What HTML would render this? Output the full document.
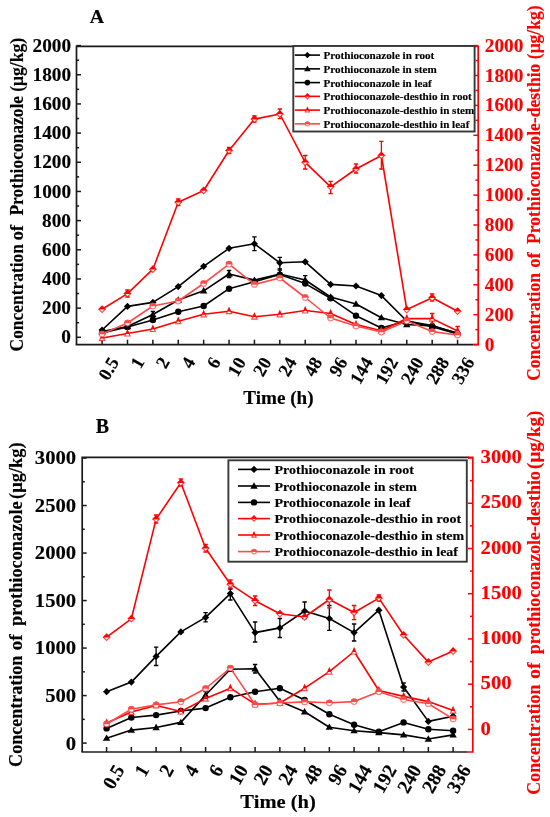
<!DOCTYPE html>
<html><head><meta charset="utf-8"><title>Prothioconazole concentration charts</title>
<style>
html,body{margin:0;padding:0;background:#fff;}
svg{display:block;}
text{font-family:"Liberation Serif","Times New Roman",serif;font-weight:bold;white-space:pre;}
text{stroke:currentColor;stroke-width:0.15px;}
</style></head>
<body>
<svg width="550" height="817" viewBox="0 0 550 817">
<rect width="550" height="817" fill="#fff"/>
<path d="M76.5,344.7V46.3H474.2" fill="none" stroke="#1a1a1a" stroke-width="1.7"/>
<path d="M75.7,344.7H473.2" fill="none" stroke="#1a1a1a" stroke-width="1.7"/>
<path d="M473.2,46.3H478.2V344.7H473.2" fill="none" stroke="#ff0000" stroke-width="1.7"/>
<path d="M76.5,337.30H81.0" stroke="#1a1a1a" stroke-width="1.5"/>
<path d="M76.5,308.13H81.0" stroke="#1a1a1a" stroke-width="1.5"/>
<path d="M76.5,278.96H81.0" stroke="#1a1a1a" stroke-width="1.5"/>
<path d="M76.5,249.79H81.0" stroke="#1a1a1a" stroke-width="1.5"/>
<path d="M76.5,220.62H81.0" stroke="#1a1a1a" stroke-width="1.5"/>
<path d="M76.5,191.45H81.0" stroke="#1a1a1a" stroke-width="1.5"/>
<path d="M76.5,162.28H81.0" stroke="#1a1a1a" stroke-width="1.5"/>
<path d="M76.5,133.11H81.0" stroke="#1a1a1a" stroke-width="1.5"/>
<path d="M76.5,103.94H81.0" stroke="#1a1a1a" stroke-width="1.5"/>
<path d="M76.5,74.77H81.0" stroke="#1a1a1a" stroke-width="1.5"/>
<path d="M76.5,45.60H81.0" stroke="#1a1a1a" stroke-width="1.5"/>
<path d="M76.5,322.72H79.1" stroke="#1a1a1a" stroke-width="1.5"/>
<path d="M76.5,293.55H79.1" stroke="#1a1a1a" stroke-width="1.5"/>
<path d="M76.5,264.38H79.1" stroke="#1a1a1a" stroke-width="1.5"/>
<path d="M76.5,235.21H79.1" stroke="#1a1a1a" stroke-width="1.5"/>
<path d="M76.5,206.03H79.1" stroke="#1a1a1a" stroke-width="1.5"/>
<path d="M76.5,176.87H79.1" stroke="#1a1a1a" stroke-width="1.5"/>
<path d="M76.5,147.69H79.1" stroke="#1a1a1a" stroke-width="1.5"/>
<path d="M76.5,118.53H79.1" stroke="#1a1a1a" stroke-width="1.5"/>
<path d="M76.5,89.35H79.1" stroke="#1a1a1a" stroke-width="1.5"/>
<path d="M76.5,60.19H79.1" stroke="#1a1a1a" stroke-width="1.5"/>
<path d="M478.2,344.60H473.4" stroke="#ff0000" stroke-width="1.5"/>
<path d="M478.2,314.70H473.4" stroke="#ff0000" stroke-width="1.5"/>
<path d="M478.2,284.80H473.4" stroke="#ff0000" stroke-width="1.5"/>
<path d="M478.2,254.90H473.4" stroke="#ff0000" stroke-width="1.5"/>
<path d="M478.2,225.00H473.4" stroke="#ff0000" stroke-width="1.5"/>
<path d="M478.2,195.10H473.4" stroke="#ff0000" stroke-width="1.5"/>
<path d="M478.2,165.20H473.4" stroke="#ff0000" stroke-width="1.5"/>
<path d="M478.2,135.30H473.4" stroke="#ff0000" stroke-width="1.5"/>
<path d="M478.2,105.40H473.4" stroke="#ff0000" stroke-width="1.5"/>
<path d="M478.2,75.50H473.4" stroke="#ff0000" stroke-width="1.5"/>
<path d="M478.2,45.60H473.4" stroke="#ff0000" stroke-width="1.5"/>
<path d="M478.2,329.65H475.4" stroke="#ff0000" stroke-width="1.5"/>
<path d="M478.2,299.75H475.4" stroke="#ff0000" stroke-width="1.5"/>
<path d="M478.2,269.85H475.4" stroke="#ff0000" stroke-width="1.5"/>
<path d="M478.2,239.95H475.4" stroke="#ff0000" stroke-width="1.5"/>
<path d="M478.2,210.05H475.4" stroke="#ff0000" stroke-width="1.5"/>
<path d="M478.2,180.15H475.4" stroke="#ff0000" stroke-width="1.5"/>
<path d="M478.2,150.25H475.4" stroke="#ff0000" stroke-width="1.5"/>
<path d="M478.2,120.35H475.4" stroke="#ff0000" stroke-width="1.5"/>
<path d="M478.2,90.45H475.4" stroke="#ff0000" stroke-width="1.5"/>
<path d="M478.2,60.55H475.4" stroke="#ff0000" stroke-width="1.5"/>
<path d="M102.10,344.7V339.7" stroke="#1a1a1a" stroke-width="1.5"/>
<path d="M127.49,344.7V339.7" stroke="#1a1a1a" stroke-width="1.5"/>
<path d="M152.88,344.7V339.7" stroke="#1a1a1a" stroke-width="1.5"/>
<path d="M178.27,344.7V339.7" stroke="#1a1a1a" stroke-width="1.5"/>
<path d="M203.66,344.7V339.7" stroke="#1a1a1a" stroke-width="1.5"/>
<path d="M229.05,344.7V339.7" stroke="#1a1a1a" stroke-width="1.5"/>
<path d="M254.44,344.7V339.7" stroke="#1a1a1a" stroke-width="1.5"/>
<path d="M279.83,344.7V339.7" stroke="#1a1a1a" stroke-width="1.5"/>
<path d="M305.22,344.7V339.7" stroke="#1a1a1a" stroke-width="1.5"/>
<path d="M330.61,344.7V339.7" stroke="#1a1a1a" stroke-width="1.5"/>
<path d="M356.00,344.7V339.7" stroke="#1a1a1a" stroke-width="1.5"/>
<path d="M381.39,344.7V339.7" stroke="#1a1a1a" stroke-width="1.5"/>
<path d="M406.78,344.7V339.7" stroke="#1a1a1a" stroke-width="1.5"/>
<path d="M432.17,344.7V339.7" stroke="#1a1a1a" stroke-width="1.5"/>
<path d="M457.56,344.7V339.7" stroke="#1a1a1a" stroke-width="1.5"/>
<text x="61.38" y="343.37" font-size="18.5" textLength="9.62" lengthAdjust="spacingAndGlyphs" fill="#000" color="#000">0</text>
<text x="42.14" y="314.20" font-size="18.5" textLength="28.86" lengthAdjust="spacingAndGlyphs" fill="#000" color="#000">200</text>
<text x="42.14" y="285.03" font-size="18.5" textLength="28.86" lengthAdjust="spacingAndGlyphs" fill="#000" color="#000">400</text>
<text x="42.14" y="255.86" font-size="18.5" textLength="28.86" lengthAdjust="spacingAndGlyphs" fill="#000" color="#000">600</text>
<text x="42.14" y="226.69" font-size="18.5" textLength="28.86" lengthAdjust="spacingAndGlyphs" fill="#000" color="#000">800</text>
<text x="32.52" y="197.52" font-size="18.5" textLength="38.48" lengthAdjust="spacingAndGlyphs" fill="#000" color="#000">1000</text>
<text x="32.52" y="168.35" font-size="18.5" textLength="38.48" lengthAdjust="spacingAndGlyphs" fill="#000" color="#000">1200</text>
<text x="32.52" y="139.18" font-size="18.5" textLength="38.48" lengthAdjust="spacingAndGlyphs" fill="#000" color="#000">1400</text>
<text x="32.52" y="110.01" font-size="18.5" textLength="38.48" lengthAdjust="spacingAndGlyphs" fill="#000" color="#000">1600</text>
<text x="32.52" y="80.84" font-size="18.5" textLength="38.48" lengthAdjust="spacingAndGlyphs" fill="#000" color="#000">1800</text>
<text x="32.52" y="51.67" font-size="18.5" textLength="38.48" lengthAdjust="spacingAndGlyphs" fill="#000" color="#000">2000</text>
<text x="484.80" y="350.67" font-size="18.5" textLength="9.62" lengthAdjust="spacingAndGlyphs" fill="#ff0000" color="#ff0000">0</text>
<text x="484.80" y="320.77" font-size="18.5" textLength="28.86" lengthAdjust="spacingAndGlyphs" fill="#ff0000" color="#ff0000">200</text>
<text x="484.80" y="290.87" font-size="18.5" textLength="28.86" lengthAdjust="spacingAndGlyphs" fill="#ff0000" color="#ff0000">400</text>
<text x="484.80" y="260.97" font-size="18.5" textLength="28.86" lengthAdjust="spacingAndGlyphs" fill="#ff0000" color="#ff0000">600</text>
<text x="484.80" y="231.07" font-size="18.5" textLength="28.86" lengthAdjust="spacingAndGlyphs" fill="#ff0000" color="#ff0000">800</text>
<text x="484.80" y="201.17" font-size="18.5" textLength="38.48" lengthAdjust="spacingAndGlyphs" fill="#ff0000" color="#ff0000">1000</text>
<text x="484.80" y="171.27" font-size="18.5" textLength="38.48" lengthAdjust="spacingAndGlyphs" fill="#ff0000" color="#ff0000">1200</text>
<text x="484.80" y="141.37" font-size="18.5" textLength="38.48" lengthAdjust="spacingAndGlyphs" fill="#ff0000" color="#ff0000">1400</text>
<text x="484.80" y="111.47" font-size="18.5" textLength="38.48" lengthAdjust="spacingAndGlyphs" fill="#ff0000" color="#ff0000">1600</text>
<text x="484.80" y="81.57" font-size="18.5" textLength="38.48" lengthAdjust="spacingAndGlyphs" fill="#ff0000" color="#ff0000">1800</text>
<text x="484.80" y="51.67" font-size="18.5" textLength="38.48" lengthAdjust="spacingAndGlyphs" fill="#ff0000" color="#ff0000">2000</text>
<g transform="translate(119.60,362.00) rotate(-60)"><text x="-22.66" y="0" font-size="18.5" textLength="22.66" lengthAdjust="spacingAndGlyphs" fill="#000" color="#000">0.5</text></g>
<g transform="translate(144.99,362.00) rotate(-60)"><text x="-9.06" y="0" font-size="18.5" textLength="9.06" lengthAdjust="spacingAndGlyphs" fill="#000" color="#000">1</text></g>
<g transform="translate(170.38,362.00) rotate(-60)"><text x="-9.06" y="0" font-size="18.5" textLength="9.06" lengthAdjust="spacingAndGlyphs" fill="#000" color="#000">2</text></g>
<g transform="translate(195.77,362.00) rotate(-60)"><text x="-9.06" y="0" font-size="18.5" textLength="9.06" lengthAdjust="spacingAndGlyphs" fill="#000" color="#000">4</text></g>
<g transform="translate(221.16,362.00) rotate(-60)"><text x="-9.06" y="0" font-size="18.5" textLength="9.06" lengthAdjust="spacingAndGlyphs" fill="#000" color="#000">6</text></g>
<g transform="translate(246.55,362.00) rotate(-60)"><text x="-18.13" y="0" font-size="18.5" textLength="18.13" lengthAdjust="spacingAndGlyphs" fill="#000" color="#000">10</text></g>
<g transform="translate(271.94,362.00) rotate(-60)"><text x="-18.13" y="0" font-size="18.5" textLength="18.13" lengthAdjust="spacingAndGlyphs" fill="#000" color="#000">20</text></g>
<g transform="translate(297.33,362.00) rotate(-60)"><text x="-18.13" y="0" font-size="18.5" textLength="18.13" lengthAdjust="spacingAndGlyphs" fill="#000" color="#000">24</text></g>
<g transform="translate(322.72,362.00) rotate(-60)"><text x="-18.13" y="0" font-size="18.5" textLength="18.13" lengthAdjust="spacingAndGlyphs" fill="#000" color="#000">48</text></g>
<g transform="translate(348.11,362.00) rotate(-60)"><text x="-18.13" y="0" font-size="18.5" textLength="18.13" lengthAdjust="spacingAndGlyphs" fill="#000" color="#000">96</text></g>
<g transform="translate(373.50,362.00) rotate(-60)"><text x="-27.20" y="0" font-size="18.5" textLength="27.20" lengthAdjust="spacingAndGlyphs" fill="#000" color="#000">144</text></g>
<g transform="translate(398.89,362.00) rotate(-60)"><text x="-27.20" y="0" font-size="18.5" textLength="27.20" lengthAdjust="spacingAndGlyphs" fill="#000" color="#000">192</text></g>
<g transform="translate(424.28,362.00) rotate(-60)"><text x="-27.20" y="0" font-size="18.5" textLength="27.20" lengthAdjust="spacingAndGlyphs" fill="#000" color="#000">240</text></g>
<g transform="translate(449.67,362.00) rotate(-60)"><text x="-27.20" y="0" font-size="18.5" textLength="27.20" lengthAdjust="spacingAndGlyphs" fill="#000" color="#000">288</text></g>
<g transform="translate(475.06,362.00) rotate(-60)"><text x="-27.20" y="0" font-size="18.5" textLength="27.20" lengthAdjust="spacingAndGlyphs" fill="#000" color="#000">336</text></g>
<text x="243.30" y="404.10" font-size="18" textLength="70.23" lengthAdjust="spacingAndGlyphs" fill="#000" color="#000">Time (h)</text>
<text x="89.71" y="23.00" font-size="19.0" textLength="14.34" lengthAdjust="spacingAndGlyphs" fill="#000" color="#000">A</text>
<g transform="translate(22.50,350.60) rotate(-90)"><text x="-0.85" y="0" font-size="18.5" textLength="107.41" lengthAdjust="spacingAndGlyphs" fill="#000" color="#000">Concentration</text></g><g transform="translate(22.50,239.90) rotate(-90)"><text x="-0.71" y="0" font-size="18.5" textLength="15.63" lengthAdjust="spacingAndGlyphs" fill="#000" color="#000">of</text></g><g transform="translate(22.50,215.30) rotate(-90)"><text x="-0.30" y="0" font-size="18.5" textLength="119.55" lengthAdjust="spacingAndGlyphs" fill="#000" color="#000">Prothioconazole</text></g><g transform="translate(22.50,91.00) rotate(-90)"><text x="-0.77" y="0" font-size="18.5" textLength="53.95" lengthAdjust="spacingAndGlyphs" fill="#000" color="#000">(μg/kg)</text></g>
<g transform="translate(539.50,380.00) rotate(-90)"><text x="-0.85" y="0" font-size="17.9" textLength="107.72" lengthAdjust="spacingAndGlyphs" fill="#ff0000" color="#ff0000">Concentration</text></g><g transform="translate(539.50,267.10) rotate(-90)"><text x="-0.71" y="0" font-size="17.9" textLength="15.53" lengthAdjust="spacingAndGlyphs" fill="#ff0000" color="#ff0000">of</text></g><g transform="translate(539.50,243.60) rotate(-90)"><text x="-0.30" y="0" font-size="17.9" textLength="180.27" lengthAdjust="spacingAndGlyphs" fill="#ff0000" color="#ff0000">Prothioconazole-desthio</text></g><g transform="translate(539.50,58.40) rotate(-90)"><text x="-0.77" y="0" font-size="17.9" textLength="53.74" lengthAdjust="spacingAndGlyphs" fill="#ff0000" color="#ff0000">(μg/kg)</text></g>
<polyline points="102.10,330.00 127.49,306.40 152.88,302.40 178.27,286.60 203.66,266.30 229.05,248.30 254.44,243.80 279.83,262.80 305.22,261.80 330.61,284.40 356.00,286.00 381.39,295.60 406.78,321.00 432.17,325.50 457.56,333.50" fill="none" stroke="#000000" stroke-width="1.6" stroke-linejoin="round"/><path d="M254.44,236.90V250.70M252.24,236.90H256.64M252.24,250.70H256.64" stroke="#000000" stroke-width="1.3" fill="none"/><path d="M279.83,257.30V268.90M277.63,257.30H282.03M277.63,268.90H282.03" stroke="#000000" stroke-width="1.3" fill="none"/><polygon points="102.10,326.40 105.70,330.00 102.10,333.60 98.50,330.00" fill="#000000"/><polygon points="127.49,302.80 131.09,306.40 127.49,310.00 123.89,306.40" fill="#000000"/><polygon points="152.88,298.80 156.48,302.40 152.88,306.00 149.28,302.40" fill="#000000"/><polygon points="178.27,283.00 181.87,286.60 178.27,290.20 174.67,286.60" fill="#000000"/><polygon points="203.66,262.70 207.26,266.30 203.66,269.90 200.06,266.30" fill="#000000"/><polygon points="229.05,244.70 232.65,248.30 229.05,251.90 225.45,248.30" fill="#000000"/><polygon points="254.44,240.20 258.04,243.80 254.44,247.40 250.84,243.80" fill="#000000"/><polygon points="279.83,259.20 283.43,262.80 279.83,266.40 276.23,262.80" fill="#000000"/><polygon points="305.22,258.20 308.82,261.80 305.22,265.40 301.62,261.80" fill="#000000"/><polygon points="330.61,280.80 334.21,284.40 330.61,288.00 327.01,284.40" fill="#000000"/><polygon points="356.00,282.40 359.60,286.00 356.00,289.60 352.40,286.00" fill="#000000"/><polygon points="381.39,292.00 384.99,295.60 381.39,299.20 377.79,295.60" fill="#000000"/><polygon points="406.78,317.40 410.38,321.00 406.78,324.60 403.18,321.00" fill="#000000"/><polygon points="432.17,321.90 435.77,325.50 432.17,329.10 428.57,325.50" fill="#000000"/><polygon points="457.56,329.90 461.16,333.50 457.56,337.10 453.96,333.50" fill="#000000"/>
<polyline points="102.10,331.50 127.49,326.50 152.88,314.50 178.27,300.00 203.66,290.80 229.05,274.00 254.44,280.10 279.83,274.00 305.22,280.00 330.61,297.00 356.00,304.00 381.39,317.70 406.78,324.50 432.17,326.00 457.56,333.00" fill="none" stroke="#000000" stroke-width="1.6" stroke-linejoin="round"/><path d="M152.88,311.50V317.50M150.68,311.50H155.08M150.68,317.50H155.08" stroke="#000000" stroke-width="1.3" fill="none"/><path d="M229.05,270.50V277.50M226.85,270.50H231.25M226.85,277.50H231.25" stroke="#000000" stroke-width="1.3" fill="none"/><path d="M305.22,275.60V284.00M303.02,275.60H307.42M303.02,284.00H307.42" stroke="#000000" stroke-width="1.3" fill="none"/><path d="M279.83,270.00V278.00M277.63,270.00H282.03M277.63,278.00H282.03" stroke="#000000" stroke-width="1.3" fill="none"/><polygon points="102.10,327.80 105.80,334.16 98.40,334.16" fill="#000000"/><polygon points="127.49,322.80 131.19,329.16 123.79,329.16" fill="#000000"/><polygon points="152.88,310.80 156.58,317.16 149.18,317.16" fill="#000000"/><polygon points="178.27,296.30 181.97,302.66 174.57,302.66" fill="#000000"/><polygon points="203.66,287.10 207.36,293.46 199.96,293.46" fill="#000000"/><polygon points="229.05,270.30 232.75,276.66 225.35,276.66" fill="#000000"/><polygon points="254.44,276.40 258.14,282.76 250.74,282.76" fill="#000000"/><polygon points="279.83,270.30 283.53,276.66 276.13,276.66" fill="#000000"/><polygon points="305.22,276.30 308.92,282.66 301.52,282.66" fill="#000000"/><polygon points="330.61,293.30 334.31,299.66 326.91,299.66" fill="#000000"/><polygon points="356.00,300.30 359.70,306.66 352.30,306.66" fill="#000000"/><polygon points="381.39,314.00 385.09,320.36 377.69,320.36" fill="#000000"/><polygon points="406.78,320.80 410.48,327.16 403.08,327.16" fill="#000000"/><polygon points="432.17,322.30 435.87,328.66 428.47,328.66" fill="#000000"/><polygon points="457.56,329.30 461.26,335.66 453.86,335.66" fill="#000000"/>
<polyline points="102.10,333.00 127.49,327.00 152.88,320.00 178.27,311.70 203.66,306.00 229.05,288.70 254.44,281.80 279.83,274.60 305.22,283.60 330.61,298.20 356.00,315.70 381.39,328.00 406.78,321.00 432.17,326.80 457.56,334.00" fill="none" stroke="#000000" stroke-width="1.6" stroke-linejoin="round"/><circle cx="102.10" cy="333.00" r="3.20" fill="#000000"/><circle cx="127.49" cy="327.00" r="3.20" fill="#000000"/><circle cx="152.88" cy="320.00" r="3.20" fill="#000000"/><circle cx="178.27" cy="311.70" r="3.20" fill="#000000"/><circle cx="203.66" cy="306.00" r="3.20" fill="#000000"/><circle cx="229.05" cy="288.70" r="3.20" fill="#000000"/><circle cx="254.44" cy="281.80" r="3.20" fill="#000000"/><circle cx="279.83" cy="274.60" r="3.20" fill="#000000"/><circle cx="305.22" cy="283.60" r="3.20" fill="#000000"/><circle cx="330.61" cy="298.20" r="3.20" fill="#000000"/><circle cx="356.00" cy="315.70" r="3.20" fill="#000000"/><circle cx="381.39" cy="328.00" r="3.20" fill="#000000"/><circle cx="406.78" cy="321.00" r="3.20" fill="#000000"/><circle cx="432.17" cy="326.80" r="3.20" fill="#000000"/><circle cx="457.56" cy="334.00" r="3.20" fill="#000000"/>
<polyline points="102.10,309.30 127.49,293.60 152.88,269.20 178.27,202.30 203.66,190.50 229.05,150.50 254.44,119.10 279.83,114.00 305.22,162.30 330.61,186.80 356.00,169.00 381.39,155.50 406.78,309.60 432.17,297.80 457.56,311.20" fill="none" stroke="#ff0000" stroke-width="1.6" stroke-linejoin="round"/><path d="M127.49,290.00V297.00M125.29,290.00H129.69M125.29,297.00H129.69" stroke="#ff0000" stroke-width="1.3" fill="none"/><path d="M178.27,199.00V205.50M176.07,199.00H180.47M176.07,205.50H180.47" stroke="#ff0000" stroke-width="1.3" fill="none"/><path d="M229.05,147.50V153.50M226.85,147.50H231.25M226.85,153.50H231.25" stroke="#ff0000" stroke-width="1.3" fill="none"/><path d="M254.44,116.00V122.00M252.24,116.00H256.64M252.24,122.00H256.64" stroke="#ff0000" stroke-width="1.3" fill="none"/><path d="M279.83,109.00V118.60M277.63,109.00H282.03M277.63,118.60H282.03" stroke="#ff0000" stroke-width="1.3" fill="none"/><path d="M305.22,155.50V169.00M303.02,155.50H307.42M303.02,169.00H307.42" stroke="#ff0000" stroke-width="1.3" fill="none"/><path d="M330.61,181.40V193.60M328.41,181.40H332.81M328.41,193.60H332.81" stroke="#ff0000" stroke-width="1.3" fill="none"/><path d="M356.00,164.00V173.00M353.80,164.00H358.20M353.80,173.00H358.20" stroke="#ff0000" stroke-width="1.3" fill="none"/><path d="M381.39,141.30V169.00M379.19,141.30H383.59M379.19,169.00H383.59" stroke="#ff0000" stroke-width="1.3" fill="none"/><path d="M432.17,294.00V301.00M429.97,294.00H434.37M429.97,301.00H434.37" stroke="#ff0000" stroke-width="1.3" fill="none"/><polygon points="102.10,306.10 105.30,309.30 102.10,312.50 98.90,309.30" fill="#fff" stroke="#ff0000" stroke-width="1.2" stroke-opacity="0.7"/><polygon points="102.10,305.50 105.90,309.60 98.30,309.60" fill="#ff0000"/><polygon points="127.49,290.40 130.69,293.60 127.49,296.80 124.29,293.60" fill="#fff" stroke="#ff0000" stroke-width="1.2" stroke-opacity="0.7"/><polygon points="127.49,289.80 131.29,293.90 123.69,293.90" fill="#ff0000"/><polygon points="152.88,266.00 156.08,269.20 152.88,272.40 149.68,269.20" fill="#fff" stroke="#ff0000" stroke-width="1.2" stroke-opacity="0.7"/><polygon points="152.88,265.40 156.68,269.50 149.08,269.50" fill="#ff0000"/><polygon points="178.27,199.10 181.47,202.30 178.27,205.50 175.07,202.30" fill="#fff" stroke="#ff0000" stroke-width="1.2" stroke-opacity="0.7"/><polygon points="178.27,198.50 182.07,202.60 174.47,202.60" fill="#ff0000"/><polygon points="203.66,187.30 206.86,190.50 203.66,193.70 200.46,190.50" fill="#fff" stroke="#ff0000" stroke-width="1.2" stroke-opacity="0.7"/><polygon points="203.66,186.70 207.46,190.80 199.86,190.80" fill="#ff0000"/><polygon points="229.05,147.30 232.25,150.50 229.05,153.70 225.85,150.50" fill="#fff" stroke="#ff0000" stroke-width="1.2" stroke-opacity="0.7"/><polygon points="229.05,146.70 232.85,150.80 225.25,150.80" fill="#ff0000"/><polygon points="254.44,115.90 257.64,119.10 254.44,122.30 251.24,119.10" fill="#fff" stroke="#ff0000" stroke-width="1.2" stroke-opacity="0.7"/><polygon points="254.44,115.30 258.24,119.40 250.64,119.40" fill="#ff0000"/><polygon points="279.83,110.80 283.03,114.00 279.83,117.20 276.63,114.00" fill="#fff" stroke="#ff0000" stroke-width="1.2" stroke-opacity="0.7"/><polygon points="279.83,110.20 283.63,114.30 276.03,114.30" fill="#ff0000"/><polygon points="305.22,159.10 308.42,162.30 305.22,165.50 302.02,162.30" fill="#fff" stroke="#ff0000" stroke-width="1.2" stroke-opacity="0.7"/><polygon points="305.22,158.50 309.02,162.60 301.42,162.60" fill="#ff0000"/><polygon points="330.61,183.60 333.81,186.80 330.61,190.00 327.41,186.80" fill="#fff" stroke="#ff0000" stroke-width="1.2" stroke-opacity="0.7"/><polygon points="330.61,183.00 334.41,187.10 326.81,187.10" fill="#ff0000"/><polygon points="356.00,165.80 359.20,169.00 356.00,172.20 352.80,169.00" fill="#fff" stroke="#ff0000" stroke-width="1.2" stroke-opacity="0.7"/><polygon points="356.00,165.20 359.80,169.30 352.20,169.30" fill="#ff0000"/><polygon points="381.39,152.30 384.59,155.50 381.39,158.70 378.19,155.50" fill="#fff" stroke="#ff0000" stroke-width="1.2" stroke-opacity="0.7"/><polygon points="381.39,151.70 385.19,155.80 377.59,155.80" fill="#ff0000"/><polygon points="406.78,306.40 409.98,309.60 406.78,312.80 403.58,309.60" fill="#fff" stroke="#ff0000" stroke-width="1.2" stroke-opacity="0.7"/><polygon points="406.78,305.80 410.58,309.90 402.98,309.90" fill="#ff0000"/><polygon points="432.17,294.60 435.37,297.80 432.17,301.00 428.97,297.80" fill="#fff" stroke="#ff0000" stroke-width="1.2" stroke-opacity="0.7"/><polygon points="432.17,294.00 435.97,298.10 428.37,298.10" fill="#ff0000"/><polygon points="457.56,308.00 460.76,311.20 457.56,314.40 454.36,311.20" fill="#fff" stroke="#ff0000" stroke-width="1.2" stroke-opacity="0.7"/><polygon points="457.56,307.40 461.36,311.50 453.76,311.50" fill="#ff0000"/>
<polyline points="102.10,338.00 127.49,333.50 152.88,329.00 178.27,321.20 203.66,314.30 229.05,311.20 254.44,316.70 279.83,314.30 305.22,310.50 330.61,313.50 356.00,324.50 381.39,330.80 406.78,318.50 432.17,318.60 457.56,331.00" fill="none" stroke="#ff0000" stroke-width="1.6" stroke-linejoin="round"/><path d="M432.17,313.50V323.50M429.97,313.50H434.37M429.97,323.50H434.37" stroke="#ff0000" stroke-width="1.3" fill="none"/><path d="M457.56,326.50V334.50M455.36,326.50H459.76M455.36,334.50H459.76" stroke="#ff0000" stroke-width="1.3" fill="none"/><polygon points="102.10,334.70 104.70,340.50 99.50,340.50" fill="#fff" stroke="#ff0000" stroke-width="1.2" stroke-opacity="0.7"/><polygon points="102.10,333.90 104.02,338.40 100.18,338.40" fill="#ff0000"/><polygon points="127.49,330.20 130.09,336.00 124.89,336.00" fill="#fff" stroke="#ff0000" stroke-width="1.2" stroke-opacity="0.7"/><polygon points="127.49,329.40 129.41,333.90 125.57,333.90" fill="#ff0000"/><polygon points="152.88,325.70 155.48,331.50 150.28,331.50" fill="#fff" stroke="#ff0000" stroke-width="1.2" stroke-opacity="0.7"/><polygon points="152.88,324.90 154.80,329.40 150.96,329.40" fill="#ff0000"/><polygon points="178.27,317.90 180.87,323.70 175.67,323.70" fill="#fff" stroke="#ff0000" stroke-width="1.2" stroke-opacity="0.7"/><polygon points="178.27,317.10 180.19,321.60 176.35,321.60" fill="#ff0000"/><polygon points="203.66,311.00 206.26,316.80 201.06,316.80" fill="#fff" stroke="#ff0000" stroke-width="1.2" stroke-opacity="0.7"/><polygon points="203.66,310.20 205.58,314.70 201.74,314.70" fill="#ff0000"/><polygon points="229.05,307.90 231.65,313.70 226.45,313.70" fill="#fff" stroke="#ff0000" stroke-width="1.2" stroke-opacity="0.7"/><polygon points="229.05,307.10 230.97,311.60 227.13,311.60" fill="#ff0000"/><polygon points="254.44,313.40 257.04,319.20 251.84,319.20" fill="#fff" stroke="#ff0000" stroke-width="1.2" stroke-opacity="0.7"/><polygon points="254.44,312.60 256.36,317.10 252.52,317.10" fill="#ff0000"/><polygon points="279.83,311.00 282.43,316.80 277.23,316.80" fill="#fff" stroke="#ff0000" stroke-width="1.2" stroke-opacity="0.7"/><polygon points="279.83,310.20 281.75,314.70 277.91,314.70" fill="#ff0000"/><polygon points="305.22,307.20 307.82,313.00 302.62,313.00" fill="#fff" stroke="#ff0000" stroke-width="1.2" stroke-opacity="0.7"/><polygon points="305.22,306.40 307.14,310.90 303.30,310.90" fill="#ff0000"/><polygon points="330.61,310.20 333.21,316.00 328.01,316.00" fill="#fff" stroke="#ff0000" stroke-width="1.2" stroke-opacity="0.7"/><polygon points="330.61,309.40 332.53,313.90 328.69,313.90" fill="#ff0000"/><polygon points="356.00,321.20 358.60,327.00 353.40,327.00" fill="#fff" stroke="#ff0000" stroke-width="1.2" stroke-opacity="0.7"/><polygon points="356.00,320.40 357.92,324.90 354.08,324.90" fill="#ff0000"/><polygon points="381.39,327.50 383.99,333.30 378.79,333.30" fill="#fff" stroke="#ff0000" stroke-width="1.2" stroke-opacity="0.7"/><polygon points="381.39,326.70 383.31,331.20 379.47,331.20" fill="#ff0000"/><polygon points="406.78,315.20 409.38,321.00 404.18,321.00" fill="#fff" stroke="#ff0000" stroke-width="1.2" stroke-opacity="0.7"/><polygon points="406.78,314.40 408.70,318.90 404.86,318.90" fill="#ff0000"/><polygon points="432.17,315.30 434.77,321.10 429.57,321.10" fill="#fff" stroke="#ff0000" stroke-width="1.2" stroke-opacity="0.7"/><polygon points="432.17,314.50 434.09,319.00 430.25,319.00" fill="#ff0000"/><polygon points="457.56,327.70 460.16,333.50 454.96,333.50" fill="#fff" stroke="#ff0000" stroke-width="1.2" stroke-opacity="0.7"/><polygon points="457.56,326.90 459.48,331.40 455.64,331.40" fill="#ff0000"/>
<polyline points="102.10,334.00 127.49,323.00 152.88,306.00 178.27,301.00 203.66,283.50 229.05,264.20 254.44,284.40 279.83,278.00 305.22,297.50 330.61,318.00 356.00,326.00 381.39,332.00 406.78,321.00 432.17,331.60 457.56,335.00" fill="none" stroke="#ff4a4a" stroke-width="1.6" stroke-linejoin="round"/><circle cx="102.10" cy="334.00" r="2.80" fill="#fff" stroke="#ff4a4a" stroke-width="1.2" stroke-opacity="0.7"/><path d="M98.70,334.30 A3.40,3.40 0 0 1 105.50,334.30 Z" fill="#ff4a4a"/><circle cx="127.49" cy="323.00" r="2.80" fill="#fff" stroke="#ff4a4a" stroke-width="1.2" stroke-opacity="0.7"/><path d="M124.09,323.30 A3.40,3.40 0 0 1 130.89,323.30 Z" fill="#ff4a4a"/><circle cx="152.88" cy="306.00" r="2.80" fill="#fff" stroke="#ff4a4a" stroke-width="1.2" stroke-opacity="0.7"/><path d="M149.48,306.30 A3.40,3.40 0 0 1 156.28,306.30 Z" fill="#ff4a4a"/><circle cx="178.27" cy="301.00" r="2.80" fill="#fff" stroke="#ff4a4a" stroke-width="1.2" stroke-opacity="0.7"/><path d="M174.87,301.30 A3.40,3.40 0 0 1 181.67,301.30 Z" fill="#ff4a4a"/><circle cx="203.66" cy="283.50" r="2.80" fill="#fff" stroke="#ff4a4a" stroke-width="1.2" stroke-opacity="0.7"/><path d="M200.26,283.80 A3.40,3.40 0 0 1 207.06,283.80 Z" fill="#ff4a4a"/><circle cx="229.05" cy="264.20" r="2.80" fill="#fff" stroke="#ff4a4a" stroke-width="1.2" stroke-opacity="0.7"/><path d="M225.65,264.50 A3.40,3.40 0 0 1 232.45,264.50 Z" fill="#ff4a4a"/><circle cx="254.44" cy="284.40" r="2.80" fill="#fff" stroke="#ff4a4a" stroke-width="1.2" stroke-opacity="0.7"/><path d="M251.04,284.70 A3.40,3.40 0 0 1 257.84,284.70 Z" fill="#ff4a4a"/><circle cx="279.83" cy="278.00" r="2.80" fill="#fff" stroke="#ff4a4a" stroke-width="1.2" stroke-opacity="0.7"/><path d="M276.43,278.30 A3.40,3.40 0 0 1 283.23,278.30 Z" fill="#ff4a4a"/><circle cx="305.22" cy="297.50" r="2.80" fill="#fff" stroke="#ff4a4a" stroke-width="1.2" stroke-opacity="0.7"/><path d="M301.82,297.80 A3.40,3.40 0 0 1 308.62,297.80 Z" fill="#ff4a4a"/><circle cx="330.61" cy="318.00" r="2.80" fill="#fff" stroke="#ff4a4a" stroke-width="1.2" stroke-opacity="0.7"/><path d="M327.21,318.30 A3.40,3.40 0 0 1 334.01,318.30 Z" fill="#ff4a4a"/><circle cx="356.00" cy="326.00" r="2.80" fill="#fff" stroke="#ff4a4a" stroke-width="1.2" stroke-opacity="0.7"/><path d="M352.60,326.30 A3.40,3.40 0 0 1 359.40,326.30 Z" fill="#ff4a4a"/><circle cx="381.39" cy="332.00" r="2.80" fill="#fff" stroke="#ff4a4a" stroke-width="1.2" stroke-opacity="0.7"/><path d="M377.99,332.30 A3.40,3.40 0 0 1 384.79,332.30 Z" fill="#ff4a4a"/><circle cx="406.78" cy="321.00" r="2.80" fill="#fff" stroke="#ff4a4a" stroke-width="1.2" stroke-opacity="0.7"/><path d="M403.38,321.30 A3.40,3.40 0 0 1 410.18,321.30 Z" fill="#ff4a4a"/><circle cx="432.17" cy="331.60" r="2.80" fill="#fff" stroke="#ff4a4a" stroke-width="1.2" stroke-opacity="0.7"/><path d="M428.77,331.90 A3.40,3.40 0 0 1 435.57,331.90 Z" fill="#ff4a4a"/><circle cx="457.56" cy="335.00" r="2.80" fill="#fff" stroke="#ff4a4a" stroke-width="1.2" stroke-opacity="0.7"/><path d="M454.16,335.30 A3.40,3.40 0 0 1 460.96,335.30 Z" fill="#ff4a4a"/>
<rect x="293.3" y="46.0" width="181.3" height="85.5" fill="#fff" stroke="#383838" stroke-width="1.9"/>
<path d="M294.8,55.10H320.0" stroke="#000000" stroke-width="1.6"/>
<polygon points="307.40,51.93 310.57,55.10 307.40,58.27 304.23,55.10" fill="#000000"/>
<text x="323.40" y="59.00" font-size="11.2" textLength="110.86" lengthAdjust="spacingAndGlyphs" fill="#000" color="#000">Prothioconazole in root</text>
<path d="M294.8,68.85H320.0" stroke="#000000" stroke-width="1.6"/>
<polygon points="307.40,65.59 310.66,71.19 304.14,71.19" fill="#000000"/>
<text x="323.40" y="72.75" font-size="11.2" textLength="113.32" lengthAdjust="spacingAndGlyphs" fill="#000" color="#000">Prothioconazole in stem</text>
<path d="M294.8,82.60H320.0" stroke="#000000" stroke-width="1.6"/>
<circle cx="307.40" cy="82.60" r="2.82" fill="#000000"/>
<text x="323.40" y="86.50" font-size="11.2" textLength="108.39" lengthAdjust="spacingAndGlyphs" fill="#000" color="#000">Prothioconazole in leaf</text>
<path d="M294.8,96.35H320.0" stroke="#ff0000" stroke-width="1.6"/>
<polygon points="307.40,93.91 309.84,96.35 307.40,98.79 304.96,96.35" fill="#fff" stroke="#ff0000" stroke-width="1.2" stroke-opacity="0.7"/><polygon points="307.40,93.31 310.44,96.65 304.36,96.65" fill="#ff0000"/>
<text x="323.40" y="100.25" font-size="11.2" textLength="148.44" lengthAdjust="spacingAndGlyphs" fill="#000" color="#000">Prothioconazole-desthio in root</text>
<path d="M294.8,110.10H320.0" stroke="#ff0000" stroke-width="1.6"/>
<polygon points="307.40,107.62 309.38,112.00 305.42,112.00" fill="#fff" stroke="#ff0000" stroke-width="1.2" stroke-opacity="0.7"/><polygon points="307.40,106.82 308.94,110.50 305.86,110.50" fill="#ff0000"/>
<text x="323.40" y="114.00" font-size="11.2" textLength="150.90" lengthAdjust="spacingAndGlyphs" fill="#000" color="#000">Prothioconazole-desthio in stem</text>
<path d="M294.8,123.85H320.0" stroke="#ff4a4a" stroke-width="1.6"/>
<circle cx="307.40" cy="123.85" r="2.12" fill="#fff" stroke="#ff4a4a" stroke-width="1.2" stroke-opacity="0.7"/><path d="M304.68,124.15 A2.72,2.72 0 0 1 310.12,124.15 Z" fill="#ff4a4a"/>
<text x="323.40" y="127.75" font-size="11.2" textLength="145.97" lengthAdjust="spacingAndGlyphs" fill="#000" color="#000">Prothioconazole-desthio in leaf</text>
<path d="M82.2,752.0V457.4H468.8" fill="none" stroke="#1a1a1a" stroke-width="1.7"/>
<path d="M81.4,752.0H467.8" fill="none" stroke="#1a1a1a" stroke-width="1.7"/>
<path d="M467.8,457.4H472.8V752.0H467.8" fill="none" stroke="#ff0000" stroke-width="1.7"/>
<path d="M82.2,743.10H86.7" stroke="#1a1a1a" stroke-width="1.5"/>
<path d="M82.2,695.59H86.7" stroke="#1a1a1a" stroke-width="1.5"/>
<path d="M82.2,648.07H86.7" stroke="#1a1a1a" stroke-width="1.5"/>
<path d="M82.2,600.56H86.7" stroke="#1a1a1a" stroke-width="1.5"/>
<path d="M82.2,553.04H86.7" stroke="#1a1a1a" stroke-width="1.5"/>
<path d="M82.2,505.52H86.7" stroke="#1a1a1a" stroke-width="1.5"/>
<path d="M82.2,458.01H86.7" stroke="#1a1a1a" stroke-width="1.5"/>
<path d="M82.2,719.34H84.8" stroke="#1a1a1a" stroke-width="1.5"/>
<path d="M82.2,671.83H84.8" stroke="#1a1a1a" stroke-width="1.5"/>
<path d="M82.2,624.31H84.8" stroke="#1a1a1a" stroke-width="1.5"/>
<path d="M82.2,576.80H84.8" stroke="#1a1a1a" stroke-width="1.5"/>
<path d="M82.2,529.28H84.8" stroke="#1a1a1a" stroke-width="1.5"/>
<path d="M82.2,481.77H84.8" stroke="#1a1a1a" stroke-width="1.5"/>
<path d="M472.8,729.40H468.0" stroke="#ff0000" stroke-width="1.5"/>
<path d="M472.8,684.17H468.0" stroke="#ff0000" stroke-width="1.5"/>
<path d="M472.8,638.94H468.0" stroke="#ff0000" stroke-width="1.5"/>
<path d="M472.8,593.71H468.0" stroke="#ff0000" stroke-width="1.5"/>
<path d="M472.8,548.48H468.0" stroke="#ff0000" stroke-width="1.5"/>
<path d="M472.8,503.25H468.0" stroke="#ff0000" stroke-width="1.5"/>
<path d="M472.8,458.02H468.0" stroke="#ff0000" stroke-width="1.5"/>
<path d="M472.8,706.78H470.0" stroke="#ff0000" stroke-width="1.5"/>
<path d="M472.8,661.55H470.0" stroke="#ff0000" stroke-width="1.5"/>
<path d="M472.8,616.32H470.0" stroke="#ff0000" stroke-width="1.5"/>
<path d="M472.8,571.10H470.0" stroke="#ff0000" stroke-width="1.5"/>
<path d="M472.8,525.87H470.0" stroke="#ff0000" stroke-width="1.5"/>
<path d="M472.8,480.63H470.0" stroke="#ff0000" stroke-width="1.5"/>
<path d="M106.60,752.0V747.0" stroke="#1a1a1a" stroke-width="1.5"/>
<path d="M131.35,752.0V747.0" stroke="#1a1a1a" stroke-width="1.5"/>
<path d="M156.10,752.0V747.0" stroke="#1a1a1a" stroke-width="1.5"/>
<path d="M180.85,752.0V747.0" stroke="#1a1a1a" stroke-width="1.5"/>
<path d="M205.60,752.0V747.0" stroke="#1a1a1a" stroke-width="1.5"/>
<path d="M230.35,752.0V747.0" stroke="#1a1a1a" stroke-width="1.5"/>
<path d="M255.10,752.0V747.0" stroke="#1a1a1a" stroke-width="1.5"/>
<path d="M279.85,752.0V747.0" stroke="#1a1a1a" stroke-width="1.5"/>
<path d="M304.60,752.0V747.0" stroke="#1a1a1a" stroke-width="1.5"/>
<path d="M329.35,752.0V747.0" stroke="#1a1a1a" stroke-width="1.5"/>
<path d="M354.10,752.0V747.0" stroke="#1a1a1a" stroke-width="1.5"/>
<path d="M378.85,752.0V747.0" stroke="#1a1a1a" stroke-width="1.5"/>
<path d="M403.60,752.0V747.0" stroke="#1a1a1a" stroke-width="1.5"/>
<path d="M428.35,752.0V747.0" stroke="#1a1a1a" stroke-width="1.5"/>
<path d="M453.10,752.0V747.0" stroke="#1a1a1a" stroke-width="1.5"/>
<text x="65.87" y="749.50" font-size="19.5" textLength="10.34" lengthAdjust="spacingAndGlyphs" fill="#000" color="#000">0</text>
<text x="45.20" y="701.98" font-size="19.5" textLength="31.01" lengthAdjust="spacingAndGlyphs" fill="#000" color="#000">500</text>
<text x="34.86" y="654.47" font-size="19.5" textLength="41.34" lengthAdjust="spacingAndGlyphs" fill="#000" color="#000">1000</text>
<text x="34.86" y="606.95" font-size="19.5" textLength="41.34" lengthAdjust="spacingAndGlyphs" fill="#000" color="#000">1500</text>
<text x="34.86" y="559.44" font-size="19.5" textLength="41.34" lengthAdjust="spacingAndGlyphs" fill="#000" color="#000">2000</text>
<text x="34.86" y="511.92" font-size="19.5" textLength="41.34" lengthAdjust="spacingAndGlyphs" fill="#000" color="#000">2500</text>
<text x="34.86" y="464.41" font-size="19.5" textLength="41.34" lengthAdjust="spacingAndGlyphs" fill="#000" color="#000">3000</text>
<text x="480.60" y="734.50" font-size="19.5" textLength="10.34" lengthAdjust="spacingAndGlyphs" fill="#ff0000" color="#ff0000">0</text>
<text x="480.60" y="689.27" font-size="19.5" textLength="31.01" lengthAdjust="spacingAndGlyphs" fill="#ff0000" color="#ff0000">500</text>
<text x="480.60" y="644.04" font-size="19.5" textLength="41.34" lengthAdjust="spacingAndGlyphs" fill="#ff0000" color="#ff0000">1000</text>
<text x="480.60" y="598.81" font-size="19.5" textLength="41.34" lengthAdjust="spacingAndGlyphs" fill="#ff0000" color="#ff0000">1500</text>
<text x="480.60" y="553.58" font-size="19.5" textLength="41.34" lengthAdjust="spacingAndGlyphs" fill="#ff0000" color="#ff0000">2000</text>
<text x="480.60" y="508.35" font-size="19.5" textLength="41.34" lengthAdjust="spacingAndGlyphs" fill="#ff0000" color="#ff0000">2500</text>
<text x="480.60" y="463.12" font-size="19.5" textLength="41.34" lengthAdjust="spacingAndGlyphs" fill="#ff0000" color="#ff0000">3000</text>
<g transform="translate(125.10,769.70) rotate(-60)"><text x="-23.89" y="0" font-size="19.5" textLength="23.89" lengthAdjust="spacingAndGlyphs" fill="#000" color="#000">0.5</text></g>
<g transform="translate(149.85,769.70) rotate(-60)"><text x="-9.55" y="0" font-size="19.5" textLength="9.55" lengthAdjust="spacingAndGlyphs" fill="#000" color="#000">1</text></g>
<g transform="translate(174.60,769.70) rotate(-60)"><text x="-9.55" y="0" font-size="19.5" textLength="9.55" lengthAdjust="spacingAndGlyphs" fill="#000" color="#000">2</text></g>
<g transform="translate(199.35,769.70) rotate(-60)"><text x="-9.55" y="0" font-size="19.5" textLength="9.55" lengthAdjust="spacingAndGlyphs" fill="#000" color="#000">4</text></g>
<g transform="translate(224.10,769.70) rotate(-60)"><text x="-9.55" y="0" font-size="19.5" textLength="9.55" lengthAdjust="spacingAndGlyphs" fill="#000" color="#000">6</text></g>
<g transform="translate(248.85,769.70) rotate(-60)"><text x="-19.11" y="0" font-size="19.5" textLength="19.11" lengthAdjust="spacingAndGlyphs" fill="#000" color="#000">10</text></g>
<g transform="translate(273.60,769.70) rotate(-60)"><text x="-19.11" y="0" font-size="19.5" textLength="19.11" lengthAdjust="spacingAndGlyphs" fill="#000" color="#000">20</text></g>
<g transform="translate(298.35,769.70) rotate(-60)"><text x="-19.11" y="0" font-size="19.5" textLength="19.11" lengthAdjust="spacingAndGlyphs" fill="#000" color="#000">24</text></g>
<g transform="translate(323.10,769.70) rotate(-60)"><text x="-19.11" y="0" font-size="19.5" textLength="19.11" lengthAdjust="spacingAndGlyphs" fill="#000" color="#000">48</text></g>
<g transform="translate(347.85,769.70) rotate(-60)"><text x="-19.11" y="0" font-size="19.5" textLength="19.11" lengthAdjust="spacingAndGlyphs" fill="#000" color="#000">96</text></g>
<g transform="translate(372.60,769.70) rotate(-60)"><text x="-28.66" y="0" font-size="19.5" textLength="28.66" lengthAdjust="spacingAndGlyphs" fill="#000" color="#000">144</text></g>
<g transform="translate(397.35,769.70) rotate(-60)"><text x="-28.66" y="0" font-size="19.5" textLength="28.66" lengthAdjust="spacingAndGlyphs" fill="#000" color="#000">192</text></g>
<g transform="translate(422.10,769.70) rotate(-60)"><text x="-28.66" y="0" font-size="19.5" textLength="28.66" lengthAdjust="spacingAndGlyphs" fill="#000" color="#000">240</text></g>
<g transform="translate(446.85,769.70) rotate(-60)"><text x="-28.66" y="0" font-size="19.5" textLength="28.66" lengthAdjust="spacingAndGlyphs" fill="#000" color="#000">288</text></g>
<g transform="translate(471.60,769.70) rotate(-60)"><text x="-28.66" y="0" font-size="19.5" textLength="28.66" lengthAdjust="spacingAndGlyphs" fill="#000" color="#000">336</text></g>
<text x="240.38" y="807.60" font-size="19.5" textLength="75.42" lengthAdjust="spacingAndGlyphs" fill="#000" color="#000">Time (h)</text>
<text x="95.67" y="433.30" font-size="20.8" textLength="13.29" lengthAdjust="spacingAndGlyphs" fill="#000" color="#000">B</text>
<g transform="translate(22.40,766.00) rotate(-90)"><text x="-0.88" y="0" font-size="18.6" textLength="111.15" lengthAdjust="spacingAndGlyphs" fill="#000" color="#000">Concentration</text></g><g transform="translate(22.40,649.70) rotate(-90)"><text x="-0.75" y="0" font-size="18.6" textLength="16.36" lengthAdjust="spacingAndGlyphs" fill="#000" color="#000">of</text></g><g transform="translate(22.40,625.80) rotate(-90)"><text x="-0.23" y="0" font-size="18.6" textLength="124.70" lengthAdjust="spacingAndGlyphs" fill="#000" color="#000">prothioconazole</text></g><g transform="translate(22.40,498.10) rotate(-90)"><text x="-0.81" y="0" font-size="18.6" textLength="56.52" lengthAdjust="spacingAndGlyphs" fill="#000" color="#000">(μg/kg)</text></g>
<g transform="translate(539.90,793.80) rotate(-90)"><text x="-0.87" y="0" font-size="18.6" textLength="110.04" lengthAdjust="spacingAndGlyphs" fill="#ff0000" color="#ff0000">Concentration</text></g><g transform="translate(539.90,678.20) rotate(-90)"><text x="-0.76" y="0" font-size="18.6" textLength="16.67" lengthAdjust="spacingAndGlyphs" fill="#ff0000" color="#ff0000">of</text></g><g transform="translate(539.90,654.00) rotate(-90)"><text x="-0.23" y="0" font-size="18.6" textLength="183.11" lengthAdjust="spacingAndGlyphs" fill="#ff0000" color="#ff0000">prothioconazole-desthio</text></g><g transform="translate(539.90,468.10) rotate(-90)"><text x="-0.84" y="0" font-size="18.6" textLength="58.37" lengthAdjust="spacingAndGlyphs" fill="#ff0000" color="#ff0000">(μg/kg)</text></g>
<polyline points="106.60,691.70 131.35,682.10 156.10,656.40 180.85,631.90 205.60,617.40 230.35,593.60 255.10,632.60 279.85,627.90 304.60,611.00 329.35,618.50 354.10,632.60 378.85,610.20 403.60,687.00 428.35,721.40 453.10,716.20" fill="none" stroke="#000000" stroke-width="1.6" stroke-linejoin="round"/><path d="M156.10,647.20V665.50M153.90,647.20H158.30M153.90,665.50H158.30" stroke="#000000" stroke-width="1.3" fill="none"/><path d="M205.60,612.70V621.90M203.40,612.70H207.80M203.40,621.90H207.80" stroke="#000000" stroke-width="1.3" fill="none"/><path d="M230.35,589.00V600.00M228.15,589.00H232.55M228.15,600.00H232.55" stroke="#000000" stroke-width="1.3" fill="none"/><path d="M255.10,622.00V642.00M252.90,622.00H257.30M252.90,642.00H257.30" stroke="#000000" stroke-width="1.3" fill="none"/><path d="M279.85,618.50V637.50M277.65,618.50H282.05M277.65,637.50H282.05" stroke="#000000" stroke-width="1.3" fill="none"/><path d="M304.60,602.00V618.50M302.40,602.00H306.80M302.40,618.50H306.80" stroke="#000000" stroke-width="1.3" fill="none"/><path d="M329.35,605.50V630.30M327.15,605.50H331.55M327.15,630.30H331.55" stroke="#000000" stroke-width="1.3" fill="none"/><path d="M354.10,624.00V641.00M351.90,624.00H356.30M351.90,641.00H356.30" stroke="#000000" stroke-width="1.3" fill="none"/><path d="M403.60,683.00V691.00M401.40,683.00H405.80M401.40,691.00H405.80" stroke="#000000" stroke-width="1.3" fill="none"/><polygon points="106.60,688.10 110.20,691.70 106.60,695.30 103.00,691.70" fill="#000000"/><polygon points="131.35,678.50 134.95,682.10 131.35,685.70 127.75,682.10" fill="#000000"/><polygon points="156.10,652.80 159.70,656.40 156.10,660.00 152.50,656.40" fill="#000000"/><polygon points="180.85,628.30 184.45,631.90 180.85,635.50 177.25,631.90" fill="#000000"/><polygon points="205.60,613.80 209.20,617.40 205.60,621.00 202.00,617.40" fill="#000000"/><polygon points="230.35,590.00 233.95,593.60 230.35,597.20 226.75,593.60" fill="#000000"/><polygon points="255.10,629.00 258.70,632.60 255.10,636.20 251.50,632.60" fill="#000000"/><polygon points="279.85,624.30 283.45,627.90 279.85,631.50 276.25,627.90" fill="#000000"/><polygon points="304.60,607.40 308.20,611.00 304.60,614.60 301.00,611.00" fill="#000000"/><polygon points="329.35,614.90 332.95,618.50 329.35,622.10 325.75,618.50" fill="#000000"/><polygon points="354.10,629.00 357.70,632.60 354.10,636.20 350.50,632.60" fill="#000000"/><polygon points="378.85,606.60 382.45,610.20 378.85,613.80 375.25,610.20" fill="#000000"/><polygon points="403.60,683.40 407.20,687.00 403.60,690.60 400.00,687.00" fill="#000000"/><polygon points="428.35,717.80 431.95,721.40 428.35,725.00 424.75,721.40" fill="#000000"/><polygon points="453.10,712.60 456.70,716.20 453.10,719.80 449.50,716.20" fill="#000000"/>
<polyline points="106.60,738.20 131.35,730.10 156.10,727.50 180.85,722.40 205.60,695.00 230.35,669.30 255.10,668.80 279.85,701.20 304.60,711.80 329.35,727.20 354.10,730.70 378.85,732.60 403.60,734.90 428.35,739.00 453.10,734.90" fill="none" stroke="#000000" stroke-width="1.6" stroke-linejoin="round"/><path d="M205.60,691.50V698.50M203.40,691.50H207.80M203.40,698.50H207.80" stroke="#000000" stroke-width="1.3" fill="none"/><path d="M255.10,664.50V673.00M252.90,664.50H257.30M252.90,673.00H257.30" stroke="#000000" stroke-width="1.3" fill="none"/><polygon points="106.60,734.50 110.30,740.86 102.90,740.86" fill="#000000"/><polygon points="131.35,726.40 135.05,732.76 127.65,732.76" fill="#000000"/><polygon points="156.10,723.80 159.80,730.16 152.40,730.16" fill="#000000"/><polygon points="180.85,718.70 184.55,725.06 177.15,725.06" fill="#000000"/><polygon points="205.60,691.30 209.30,697.66 201.90,697.66" fill="#000000"/><polygon points="230.35,665.60 234.05,671.96 226.65,671.96" fill="#000000"/><polygon points="255.10,665.10 258.80,671.46 251.40,671.46" fill="#000000"/><polygon points="279.85,697.50 283.55,703.86 276.15,703.86" fill="#000000"/><polygon points="304.60,708.10 308.30,714.46 300.90,714.46" fill="#000000"/><polygon points="329.35,723.50 333.05,729.86 325.65,729.86" fill="#000000"/><polygon points="354.10,727.00 357.80,733.36 350.40,733.36" fill="#000000"/><polygon points="378.85,728.90 382.55,735.26 375.15,735.26" fill="#000000"/><polygon points="403.60,731.20 407.30,737.56 399.90,737.56" fill="#000000"/><polygon points="428.35,735.30 432.05,741.66 424.65,741.66" fill="#000000"/><polygon points="453.10,731.20 456.80,737.56 449.40,737.56" fill="#000000"/>
<polyline points="106.60,728.40 131.35,717.50 156.10,715.10 180.85,711.00 205.60,708.10 230.35,697.20 255.10,691.70 279.85,688.20 304.60,700.00 329.35,714.20 354.10,724.80 378.85,731.80 403.60,722.40 428.35,729.30 453.10,730.70" fill="none" stroke="#000000" stroke-width="1.6" stroke-linejoin="round"/><circle cx="106.60" cy="728.40" r="3.20" fill="#000000"/><circle cx="131.35" cy="717.50" r="3.20" fill="#000000"/><circle cx="156.10" cy="715.10" r="3.20" fill="#000000"/><circle cx="180.85" cy="711.00" r="3.20" fill="#000000"/><circle cx="205.60" cy="708.10" r="3.20" fill="#000000"/><circle cx="230.35" cy="697.20" r="3.20" fill="#000000"/><circle cx="255.10" cy="691.70" r="3.20" fill="#000000"/><circle cx="279.85" cy="688.20" r="3.20" fill="#000000"/><circle cx="304.60" cy="700.00" r="3.20" fill="#000000"/><circle cx="329.35" cy="714.20" r="3.20" fill="#000000"/><circle cx="354.10" cy="724.80" r="3.20" fill="#000000"/><circle cx="378.85" cy="731.80" r="3.20" fill="#000000"/><circle cx="403.60" cy="722.40" r="3.20" fill="#000000"/><circle cx="428.35" cy="729.30" r="3.20" fill="#000000"/><circle cx="453.10" cy="730.70" r="3.20" fill="#000000"/>
<polyline points="106.60,637.20 131.35,618.80 156.10,519.10 180.85,482.70 205.60,548.20 230.35,584.20 255.10,600.70 279.85,613.70 304.60,617.00 329.35,599.50 354.10,612.50 378.85,598.10 403.60,635.00 428.35,662.10 453.10,651.10" fill="none" stroke="#ff0000" stroke-width="1.6" stroke-linejoin="round"/><path d="M156.10,515.00V523.00M153.90,515.00H158.30M153.90,523.00H158.30" stroke="#ff0000" stroke-width="1.3" fill="none"/><path d="M180.85,479.00V486.00M178.65,479.00H183.05M178.65,486.00H183.05" stroke="#ff0000" stroke-width="1.3" fill="none"/><path d="M205.60,544.50V552.00M203.40,544.50H207.80M203.40,552.00H207.80" stroke="#ff0000" stroke-width="1.3" fill="none"/><path d="M230.35,580.00V588.00M228.15,580.00H232.55M228.15,588.00H232.55" stroke="#ff0000" stroke-width="1.3" fill="none"/><path d="M255.10,596.00V605.50M252.90,596.00H257.30M252.90,605.50H257.30" stroke="#ff0000" stroke-width="1.3" fill="none"/><path d="M329.35,590.00V607.80M327.15,590.00H331.55M327.15,607.80H331.55" stroke="#ff0000" stroke-width="1.3" fill="none"/><path d="M354.10,605.50V619.60M351.90,605.50H356.30M351.90,619.60H356.30" stroke="#ff0000" stroke-width="1.3" fill="none"/><path d="M378.85,595.00V601.00M376.65,595.00H381.05M376.65,601.00H381.05" stroke="#ff0000" stroke-width="1.3" fill="none"/><polygon points="106.60,634.00 109.80,637.20 106.60,640.40 103.40,637.20" fill="#fff" stroke="#ff0000" stroke-width="1.2" stroke-opacity="0.7"/><polygon points="106.60,633.40 110.40,637.50 102.80,637.50" fill="#ff0000"/><polygon points="131.35,615.60 134.55,618.80 131.35,622.00 128.15,618.80" fill="#fff" stroke="#ff0000" stroke-width="1.2" stroke-opacity="0.7"/><polygon points="131.35,615.00 135.15,619.10 127.55,619.10" fill="#ff0000"/><polygon points="156.10,515.90 159.30,519.10 156.10,522.30 152.90,519.10" fill="#fff" stroke="#ff0000" stroke-width="1.2" stroke-opacity="0.7"/><polygon points="156.10,515.30 159.90,519.40 152.30,519.40" fill="#ff0000"/><polygon points="180.85,479.50 184.05,482.70 180.85,485.90 177.65,482.70" fill="#fff" stroke="#ff0000" stroke-width="1.2" stroke-opacity="0.7"/><polygon points="180.85,478.90 184.65,483.00 177.05,483.00" fill="#ff0000"/><polygon points="205.60,545.00 208.80,548.20 205.60,551.40 202.40,548.20" fill="#fff" stroke="#ff0000" stroke-width="1.2" stroke-opacity="0.7"/><polygon points="205.60,544.40 209.40,548.50 201.80,548.50" fill="#ff0000"/><polygon points="230.35,581.00 233.55,584.20 230.35,587.40 227.15,584.20" fill="#fff" stroke="#ff0000" stroke-width="1.2" stroke-opacity="0.7"/><polygon points="230.35,580.40 234.15,584.50 226.55,584.50" fill="#ff0000"/><polygon points="255.10,597.50 258.30,600.70 255.10,603.90 251.90,600.70" fill="#fff" stroke="#ff0000" stroke-width="1.2" stroke-opacity="0.7"/><polygon points="255.10,596.90 258.90,601.00 251.30,601.00" fill="#ff0000"/><polygon points="279.85,610.50 283.05,613.70 279.85,616.90 276.65,613.70" fill="#fff" stroke="#ff0000" stroke-width="1.2" stroke-opacity="0.7"/><polygon points="279.85,609.90 283.65,614.00 276.05,614.00" fill="#ff0000"/><polygon points="304.60,613.80 307.80,617.00 304.60,620.20 301.40,617.00" fill="#fff" stroke="#ff0000" stroke-width="1.2" stroke-opacity="0.7"/><polygon points="304.60,613.20 308.40,617.30 300.80,617.30" fill="#ff0000"/><polygon points="329.35,596.30 332.55,599.50 329.35,602.70 326.15,599.50" fill="#fff" stroke="#ff0000" stroke-width="1.2" stroke-opacity="0.7"/><polygon points="329.35,595.70 333.15,599.80 325.55,599.80" fill="#ff0000"/><polygon points="354.10,609.30 357.30,612.50 354.10,615.70 350.90,612.50" fill="#fff" stroke="#ff0000" stroke-width="1.2" stroke-opacity="0.7"/><polygon points="354.10,608.70 357.90,612.80 350.30,612.80" fill="#ff0000"/><polygon points="378.85,594.90 382.05,598.10 378.85,601.30 375.65,598.10" fill="#fff" stroke="#ff0000" stroke-width="1.2" stroke-opacity="0.7"/><polygon points="378.85,594.30 382.65,598.40 375.05,598.40" fill="#ff0000"/><polygon points="403.60,631.80 406.80,635.00 403.60,638.20 400.40,635.00" fill="#fff" stroke="#ff0000" stroke-width="1.2" stroke-opacity="0.7"/><polygon points="403.60,631.20 407.40,635.30 399.80,635.30" fill="#ff0000"/><polygon points="428.35,658.90 431.55,662.10 428.35,665.30 425.15,662.10" fill="#fff" stroke="#ff0000" stroke-width="1.2" stroke-opacity="0.7"/><polygon points="428.35,658.30 432.15,662.40 424.55,662.40" fill="#ff0000"/><polygon points="453.10,647.90 456.30,651.10 453.10,654.30 449.90,651.10" fill="#fff" stroke="#ff0000" stroke-width="1.2" stroke-opacity="0.7"/><polygon points="453.10,647.30 456.90,651.40 449.30,651.40" fill="#ff0000"/>
<polyline points="106.60,723.00 131.35,712.00 156.10,705.50 180.85,711.50 205.60,698.60 230.35,688.20 255.10,704.20 279.85,703.00 304.60,688.20 329.35,671.60 354.10,651.50 378.85,690.50 403.60,696.40 428.35,701.60 453.10,710.60" fill="none" stroke="#ff0000" stroke-width="1.6" stroke-linejoin="round"/><polygon points="106.60,719.70 109.20,725.50 104.00,725.50" fill="#fff" stroke="#ff0000" stroke-width="1.2" stroke-opacity="0.7"/><polygon points="106.60,718.90 108.52,723.40 104.68,723.40" fill="#ff0000"/><polygon points="131.35,708.70 133.95,714.50 128.75,714.50" fill="#fff" stroke="#ff0000" stroke-width="1.2" stroke-opacity="0.7"/><polygon points="131.35,707.90 133.27,712.40 129.43,712.40" fill="#ff0000"/><polygon points="156.10,702.20 158.70,708.00 153.50,708.00" fill="#fff" stroke="#ff0000" stroke-width="1.2" stroke-opacity="0.7"/><polygon points="156.10,701.40 158.02,705.90 154.18,705.90" fill="#ff0000"/><polygon points="180.85,708.20 183.45,714.00 178.25,714.00" fill="#fff" stroke="#ff0000" stroke-width="1.2" stroke-opacity="0.7"/><polygon points="180.85,707.40 182.77,711.90 178.93,711.90" fill="#ff0000"/><polygon points="205.60,695.30 208.20,701.10 203.00,701.10" fill="#fff" stroke="#ff0000" stroke-width="1.2" stroke-opacity="0.7"/><polygon points="205.60,694.50 207.52,699.00 203.68,699.00" fill="#ff0000"/><polygon points="230.35,684.90 232.95,690.70 227.75,690.70" fill="#fff" stroke="#ff0000" stroke-width="1.2" stroke-opacity="0.7"/><polygon points="230.35,684.10 232.27,688.60 228.43,688.60" fill="#ff0000"/><polygon points="255.10,700.90 257.70,706.70 252.50,706.70" fill="#fff" stroke="#ff0000" stroke-width="1.2" stroke-opacity="0.7"/><polygon points="255.10,700.10 257.02,704.60 253.18,704.60" fill="#ff0000"/><polygon points="279.85,699.70 282.45,705.50 277.25,705.50" fill="#fff" stroke="#ff0000" stroke-width="1.2" stroke-opacity="0.7"/><polygon points="279.85,698.90 281.77,703.40 277.93,703.40" fill="#ff0000"/><polygon points="304.60,684.90 307.20,690.70 302.00,690.70" fill="#fff" stroke="#ff0000" stroke-width="1.2" stroke-opacity="0.7"/><polygon points="304.60,684.10 306.52,688.60 302.68,688.60" fill="#ff0000"/><polygon points="329.35,668.30 331.95,674.10 326.75,674.10" fill="#fff" stroke="#ff0000" stroke-width="1.2" stroke-opacity="0.7"/><polygon points="329.35,667.50 331.27,672.00 327.43,672.00" fill="#ff0000"/><polygon points="354.10,648.20 356.70,654.00 351.50,654.00" fill="#fff" stroke="#ff0000" stroke-width="1.2" stroke-opacity="0.7"/><polygon points="354.10,647.40 356.02,651.90 352.18,651.90" fill="#ff0000"/><polygon points="378.85,687.20 381.45,693.00 376.25,693.00" fill="#fff" stroke="#ff0000" stroke-width="1.2" stroke-opacity="0.7"/><polygon points="378.85,686.40 380.77,690.90 376.93,690.90" fill="#ff0000"/><polygon points="403.60,693.10 406.20,698.90 401.00,698.90" fill="#fff" stroke="#ff0000" stroke-width="1.2" stroke-opacity="0.7"/><polygon points="403.60,692.30 405.52,696.80 401.68,696.80" fill="#ff0000"/><polygon points="428.35,698.30 430.95,704.10 425.75,704.10" fill="#fff" stroke="#ff0000" stroke-width="1.2" stroke-opacity="0.7"/><polygon points="428.35,697.50 430.27,702.00 426.43,702.00" fill="#ff0000"/><polygon points="453.10,707.30 455.70,713.10 450.50,713.10" fill="#fff" stroke="#ff0000" stroke-width="1.2" stroke-opacity="0.7"/><polygon points="453.10,706.50 455.02,711.00 451.18,711.00" fill="#ff0000"/>
<polyline points="106.60,724.00 131.35,709.20 156.10,704.90 180.85,701.70 205.60,688.50 230.35,668.10 255.10,704.70 279.85,703.00 304.60,701.90 329.35,702.80 354.10,701.60 378.85,691.70 403.60,699.50 428.35,703.70 453.10,718.90" fill="none" stroke="#ff4a4a" stroke-width="1.6" stroke-linejoin="round"/><circle cx="106.60" cy="724.00" r="2.80" fill="#fff" stroke="#ff4a4a" stroke-width="1.2" stroke-opacity="0.7"/><path d="M103.20,724.30 A3.40,3.40 0 0 1 110.00,724.30 Z" fill="#ff4a4a"/><circle cx="131.35" cy="709.20" r="2.80" fill="#fff" stroke="#ff4a4a" stroke-width="1.2" stroke-opacity="0.7"/><path d="M127.95,709.50 A3.40,3.40 0 0 1 134.75,709.50 Z" fill="#ff4a4a"/><circle cx="156.10" cy="704.90" r="2.80" fill="#fff" stroke="#ff4a4a" stroke-width="1.2" stroke-opacity="0.7"/><path d="M152.70,705.20 A3.40,3.40 0 0 1 159.50,705.20 Z" fill="#ff4a4a"/><circle cx="180.85" cy="701.70" r="2.80" fill="#fff" stroke="#ff4a4a" stroke-width="1.2" stroke-opacity="0.7"/><path d="M177.45,702.00 A3.40,3.40 0 0 1 184.25,702.00 Z" fill="#ff4a4a"/><circle cx="205.60" cy="688.50" r="2.80" fill="#fff" stroke="#ff4a4a" stroke-width="1.2" stroke-opacity="0.7"/><path d="M202.20,688.80 A3.40,3.40 0 0 1 209.00,688.80 Z" fill="#ff4a4a"/><circle cx="230.35" cy="668.10" r="2.80" fill="#fff" stroke="#ff4a4a" stroke-width="1.2" stroke-opacity="0.7"/><path d="M226.95,668.40 A3.40,3.40 0 0 1 233.75,668.40 Z" fill="#ff4a4a"/><circle cx="255.10" cy="704.70" r="2.80" fill="#fff" stroke="#ff4a4a" stroke-width="1.2" stroke-opacity="0.7"/><path d="M251.70,705.00 A3.40,3.40 0 0 1 258.50,705.00 Z" fill="#ff4a4a"/><circle cx="279.85" cy="703.00" r="2.80" fill="#fff" stroke="#ff4a4a" stroke-width="1.2" stroke-opacity="0.7"/><path d="M276.45,703.30 A3.40,3.40 0 0 1 283.25,703.30 Z" fill="#ff4a4a"/><circle cx="304.60" cy="701.90" r="2.80" fill="#fff" stroke="#ff4a4a" stroke-width="1.2" stroke-opacity="0.7"/><path d="M301.20,702.20 A3.40,3.40 0 0 1 308.00,702.20 Z" fill="#ff4a4a"/><circle cx="329.35" cy="702.80" r="2.80" fill="#fff" stroke="#ff4a4a" stroke-width="1.2" stroke-opacity="0.7"/><path d="M325.95,703.10 A3.40,3.40 0 0 1 332.75,703.10 Z" fill="#ff4a4a"/><circle cx="354.10" cy="701.60" r="2.80" fill="#fff" stroke="#ff4a4a" stroke-width="1.2" stroke-opacity="0.7"/><path d="M350.70,701.90 A3.40,3.40 0 0 1 357.50,701.90 Z" fill="#ff4a4a"/><circle cx="378.85" cy="691.70" r="2.80" fill="#fff" stroke="#ff4a4a" stroke-width="1.2" stroke-opacity="0.7"/><path d="M375.45,692.00 A3.40,3.40 0 0 1 382.25,692.00 Z" fill="#ff4a4a"/><circle cx="403.60" cy="699.50" r="2.80" fill="#fff" stroke="#ff4a4a" stroke-width="1.2" stroke-opacity="0.7"/><path d="M400.20,699.80 A3.40,3.40 0 0 1 407.00,699.80 Z" fill="#ff4a4a"/><circle cx="428.35" cy="703.70" r="2.80" fill="#fff" stroke="#ff4a4a" stroke-width="1.2" stroke-opacity="0.7"/><path d="M424.95,704.00 A3.40,3.40 0 0 1 431.75,704.00 Z" fill="#ff4a4a"/><circle cx="453.10" cy="718.90" r="2.80" fill="#fff" stroke="#ff4a4a" stroke-width="1.2" stroke-opacity="0.7"/><path d="M449.70,719.20 A3.40,3.40 0 0 1 456.50,719.20 Z" fill="#ff4a4a"/>
<rect x="228.4" y="460.3" width="238.4" height="101.40000000000003" fill="#fff" stroke="#383838" stroke-width="1.9"/>
<path d="M238,469.40H270" stroke="#000000" stroke-width="1.6"/>
<polygon points="254.00,465.80 257.60,469.40 254.00,473.00 250.40,469.40" fill="#000000"/>
<text x="274.50" y="474.10" font-size="13.4" textLength="139.33" lengthAdjust="spacingAndGlyphs" fill="#000" color="#000">Prothioconazole in root</text>
<path d="M238,486.00H270" stroke="#000000" stroke-width="1.6"/>
<polygon points="254.00,482.30 257.70,488.66 250.30,488.66" fill="#000000"/>
<text x="274.50" y="490.70" font-size="13.4" textLength="142.43" lengthAdjust="spacingAndGlyphs" fill="#000" color="#000">Prothioconazole in stem</text>
<path d="M238,502.40H270" stroke="#000000" stroke-width="1.6"/>
<circle cx="254.00" cy="502.40" r="3.20" fill="#000000"/>
<text x="274.50" y="507.10" font-size="13.4" textLength="136.24" lengthAdjust="spacingAndGlyphs" fill="#000" color="#000">Prothioconazole in leaf</text>
<path d="M238,518.60H270" stroke="#ff0000" stroke-width="1.6"/>
<polygon points="254.00,515.97 256.63,518.60 254.00,521.23 251.37,518.60" fill="#fff" stroke="#ff0000" stroke-width="1.2" stroke-opacity="0.7"/><polygon points="254.00,515.37 257.23,518.90 250.77,518.90" fill="#ff0000"/>
<text x="274.50" y="523.30" font-size="13.4" textLength="186.56" lengthAdjust="spacingAndGlyphs" fill="#000" color="#000">Prothioconazole-desthio in root</text>
<path d="M238,535.00H270" stroke="#ff0000" stroke-width="1.6"/>
<polygon points="254.00,532.31 256.13,537.05 251.87,537.05" fill="#fff" stroke="#ff0000" stroke-width="1.2" stroke-opacity="0.7"/><polygon points="254.00,531.51 255.63,535.40 252.37,535.40" fill="#ff0000"/>
<text x="274.50" y="539.70" font-size="13.4" textLength="189.66" lengthAdjust="spacingAndGlyphs" fill="#000" color="#000">Prothioconazole-desthio in stem</text>
<path d="M238,551.60H270" stroke="#ff4a4a" stroke-width="1.6"/>
<circle cx="254.00" cy="551.60" r="2.29" fill="#fff" stroke="#ff4a4a" stroke-width="1.2" stroke-opacity="0.7"/><path d="M251.11,551.90 A2.89,2.89 0 0 1 256.89,551.90 Z" fill="#ff4a4a"/>
<text x="274.50" y="556.30" font-size="13.4" textLength="183.47" lengthAdjust="spacingAndGlyphs" fill="#000" color="#000">Prothioconazole-desthio in leaf</text>
</svg>
</body></html>
